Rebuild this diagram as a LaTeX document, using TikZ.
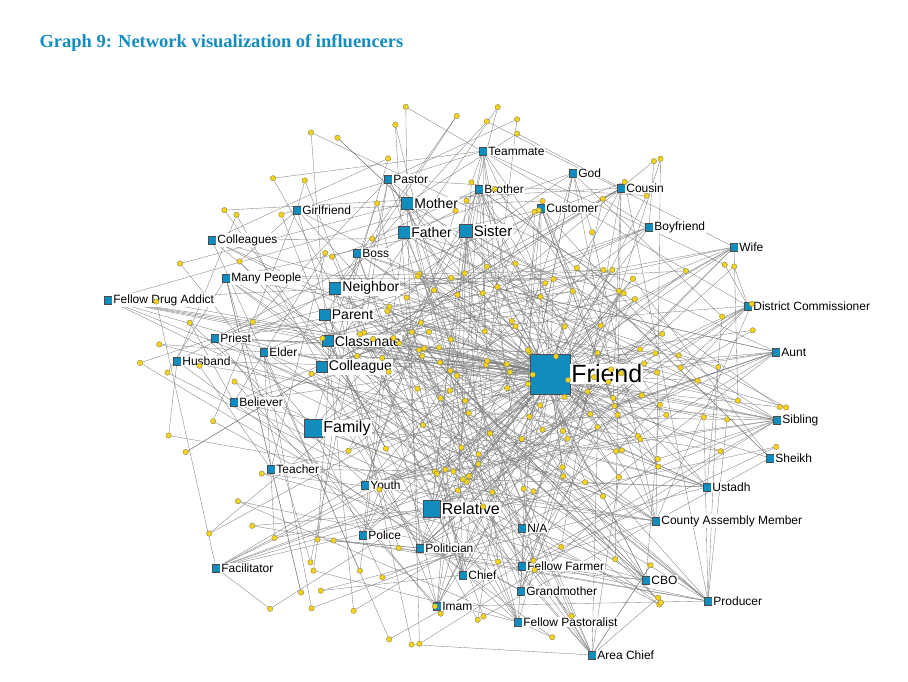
\documentclass[tikz,border=0pt]{standalone}
\usepackage{fontspec}
\setmainfont{Liberation Serif}
\setsansfont{Liberation Sans}
\pgfdeclarelayer{bg}
\pgfsetlayers{bg,main}
\definecolor{sqblue}{RGB}{16,140,190}
\definecolor{dotyel}{RGB}{245,210,30}
\definecolor{titleblue}{RGB}{20,140,190}
\begin{document}
\begin{tikzpicture}[x=1pt,y=-1pt,
  sq/.style={draw=black!70,fill=sqblue,inner sep=0pt,line width=0.4pt},
  dt/.style={circle,draw=black!60!yellow,fill=dotyel,inner sep=0pt,minimum size=5.5pt,line width=0.3pt},
  lab/.style={font=\sffamily,inner sep=1pt,fill=white,text=black},
  ed/.style={draw=black!50,line width=0.35pt}]
\path[use as bounding box] (0,0) rectangle (908,681);
\node[anchor=west,font=\bfseries\fontsize{18.5}{20}\selectfont,text=titleblue] (title) at (36,43) {Graph 9: Network visualization of influencers};
\foreach \lab/\x/\y/\sz/\fs [count=\k] in {
 Friend/550/374/40/25, Family/313/428/18/16, Relative/432/509/17/16, Mother/407/203/12/14,
 Father/404/232/12/14, Sister/466/231/13/15, Neighbor/335/288/12/14, Parent/325/315/11/14,
 Classmate/328/341/11/14, Colleague/322/367/11/14,
 Teammate/483/151/8/12, Pastor/388/179/8/12, Brother/479/189/8/12, God/573/173/8/12,
 Cousin/621/188/8/12, Customer/541/208/8/12, Boyfriend/649/227/8/12, Girlfriend/297/210/8/12,
 Colleagues/212/240/8/12, Boss/357/253/8/12, Wife/734/247/8/12, Many People/226/278/8/12,
 Fellow Drug Addict/108/300/8/12, District Commissioner/748/306/8/12, Priest/215/338/8/12,
 Elder/264/352/8/12, Husband/177/361/8/12, Aunt/776/352/8/12, Believer/234/402/8/12,
 Sibling/777/420/8/12, Sheikh/770/458/8/12, Teacher/271/469/8/12, Youth/365/485/8/12,
 Ustadh/707/487/8/12, {N/A}/522/528/8/12, County Assembly Member/656/521/8/12,
 Police/363/535/8/12, Politician/420/548/8/12, Facilitator/216/568/8/12,
 Fellow Farmer/522/566/8/12, Chief/463/575/8/12, CBO/646/580/8/12, Grandmother/521/591/8/12,
 Producer/708/601/8/12, Imam/437/606/8/12, Fellow Pastoralist/518/622/8/12, Area Chief/592/655/8/12}{
  \node[sq,minimum size=\sz pt,label={[lab,font=\sffamily\fontsize{\fs}{\fs}\selectfont,label distance=0pt]right:\lab}] (s\k) at (\x,\y) {};
}
\pgfmathsetseed{11}
% dense inner cluster
\foreach \i in {1,...,110}{
  \pgfmathsetmacro\a{rnd*360}\pgfmathsetmacro\r{sqrt(rnd)}
  \pgfmathsetmacro\px{520+190*\r*cos(\a)}\pgfmathsetmacro\py{380+130*\r*sin(\a)}
  \node[dt] (a\i) at (\px,\py) {};
  \pgfmathrandominteger{\ka}{2}{47}\pgfmathrandominteger{\kb}{2}{47}
  \begin{pgfonlayer}{bg}
  \draw[ed] (a\i) -- (s1); \draw[ed] (a\i) -- (s\ka); \draw[ed] (a\i) -- (s\kb);
  \end{pgfonlayer}
}
% outer scatter
\foreach \i in {1,...,110}{
  \pgfmathsetmacro\a{rnd*360}\pgfmathsetmacro\r{0.35+0.65*sqrt(rnd)}
  \pgfmathsetmacro\px{460+330*\r*cos(\a)}\pgfmathsetmacro\py{385+285*\r*sin(\a)}
  \pgfmathsetmacro\py{max(\py,95)}
  \node[dt] (b\i) at (\px,\py) {};
  \pgfmathrandominteger{\ka}{1}{47}\pgfmathrandominteger{\kb}{2}{47}
  \begin{pgfonlayer}{bg}
  \draw[ed] (b\i) -- (s\ka); \draw[ed] (b\i) -- (s\kb);
  \end{pgfonlayer}
}
\end{tikzpicture}
\end{document}
